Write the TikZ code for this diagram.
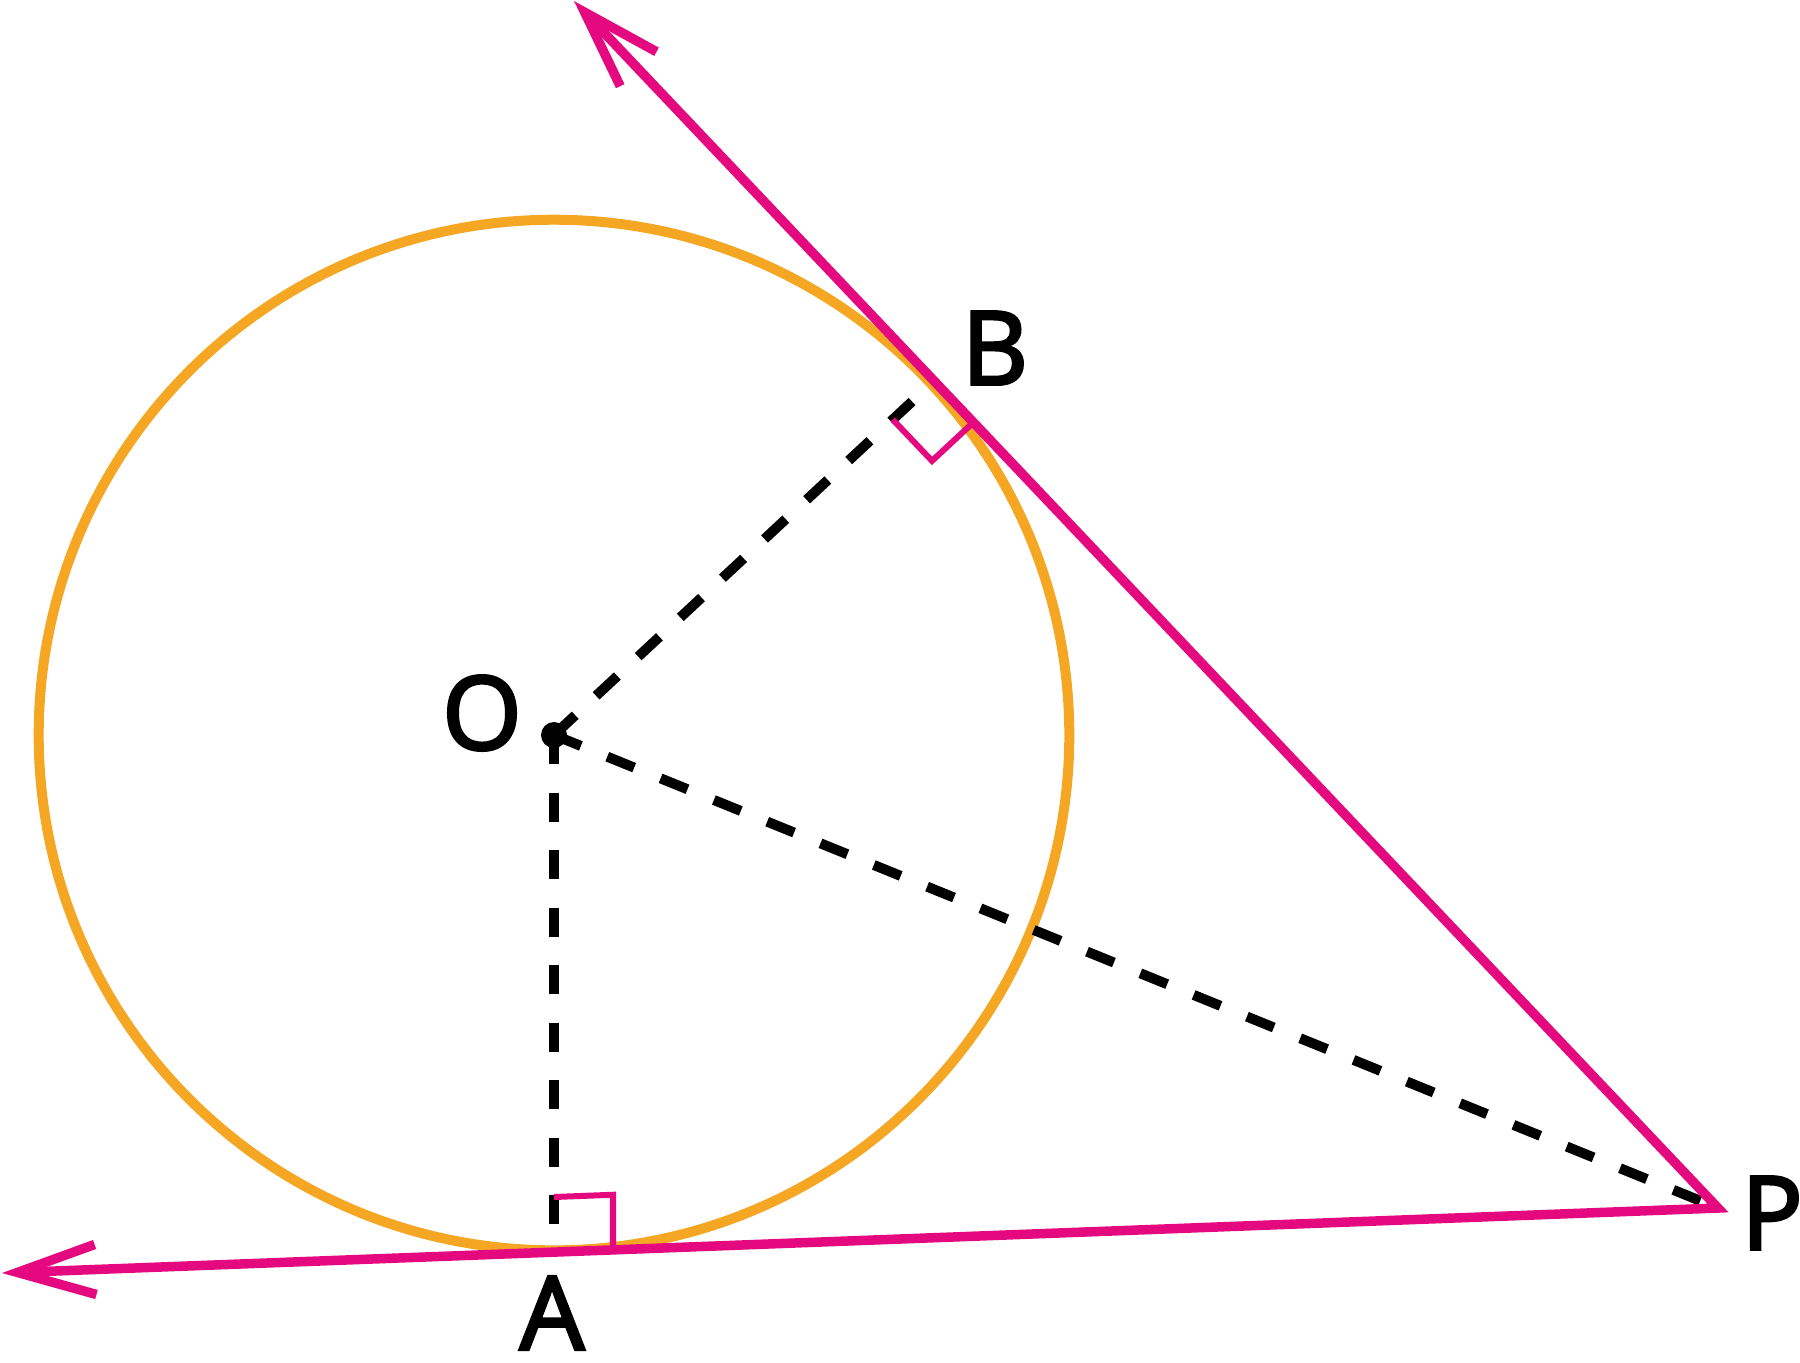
\documentclass[tikz,border=0pt]{standalone}
\usepackage{fontspec}
\setmainfont{Open Sans}
\newfontfamily\labelfont{Open Sans}[FakeBold=3]
\usetikzlibrary{arrows.meta,calc}
\definecolor{tangentpink}{RGB}{229,9,127}
\definecolor{circleorange}{RGB}{245,166,35}
\tikzset{
  radius line/.style={black, line width=0.1cm, dash pattern=on 0.29cm off 0.285cm},
  barb/.tip={Straight Barb[length=0.78cm,width=0.5cm]},
  tangent line/.style={tangentpink, line width=0.095cm, barb-barb},
  right mark/.style={tangentpink, line width=0.06cm},
  point label/.style={inner sep=0pt, font=\labelfont\fontsize{29pt}{35pt}\selectfont},
}
\begin{document}
\begin{tikzpicture}[x=0.01cm, y=-0.01cm]
        \useasboundingbox (0,0) rectangle (1800,1362);
        % points
        \coordinate (O) at (554,735);
        \coordinate (A) at (554,1252);
        \coordinate (B) at (933,382);
        \coordinate (P) at (1718,1208);
        \coordinate (tipL) at (2,1273);
        \coordinate (tipT) at (574,1);
        % circle
        \draw[circleorange, line width=0.1cm] (O) circle[radius=5.15cm];
        % radii and OP
        \draw[radius line] (O) -- (A);
        \draw[radius line] (O) -- (B);
        \draw[radius line] (O) -- (P);
        \fill (O) circle[radius=0.13cm];
        % tangents
        \draw[tangent line] (tipL) -- (P) -- (tipT);
        % right angles
        \coordinate (Ao) at ($(A)!0.55cm!(O)$);
        \coordinate (Ap) at ($(A)!0.59cm!(P)$);
        \draw[right mark] (Ao) -- ($(Ao)+(Ap)-(A)$) -- (Ap);
        \coordinate (Bo) at ($(B)!0.55cm!(O)$);
        \coordinate (Bp) at ($(B)!0.57cm!(P)$);
        \draw[right mark] (Bo) -- ($(Bo)+(Bp)-(B)$) -- (Bp);
        % labels
        \node[point label] (labO) at (482,713) {O};
        \node[point label] (labB) at (995,348) {B};
        \node[point label] (labA) at (552,1313) {A};
        \node[point label] (labP) at (1772,1213) {P};
\end{tikzpicture}
\end{document}
